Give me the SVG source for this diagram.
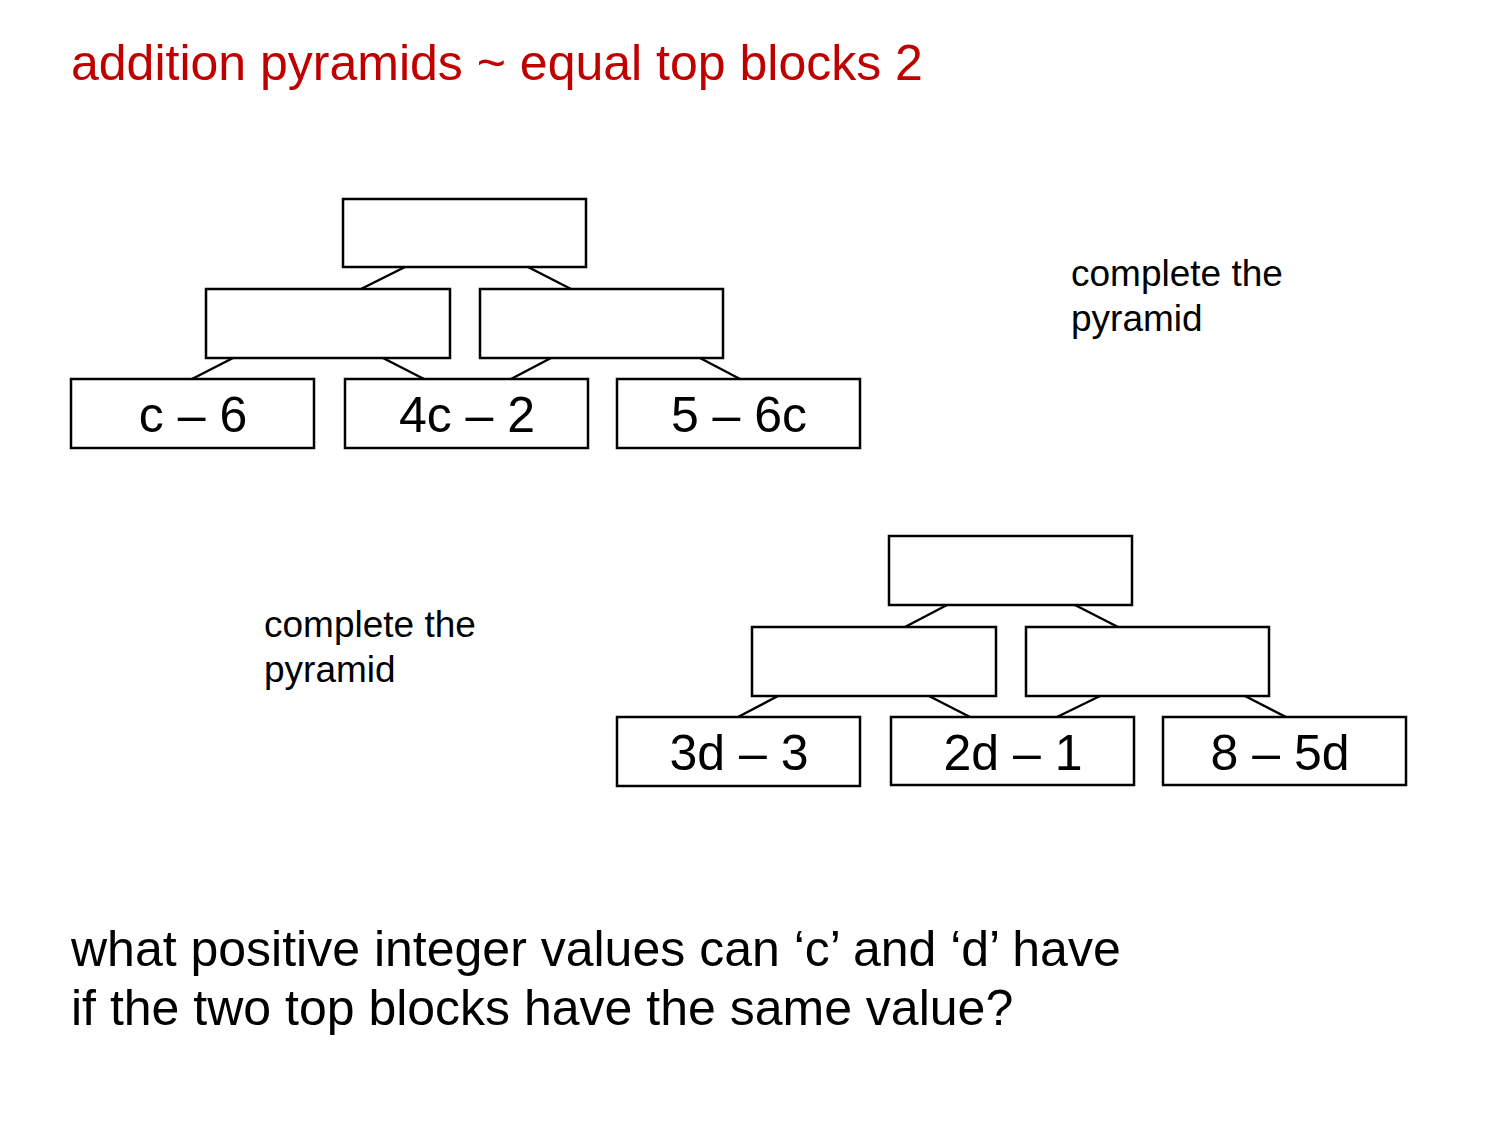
<svg xmlns="http://www.w3.org/2000/svg" width="1500" height="1125" viewBox="0 0 1500 1125">
<style>
.b{fill:#fff;stroke:#000;stroke-width:2.5}
.c line{stroke:#000;stroke-width:2.5}
text{font-family:"Liberation Sans",Arial,sans-serif}
.l{font-size:50px;text-anchor:middle}
.s{font-size:37px}
.q{font-size:50px}
</style>
<rect width="1500" height="1125" fill="#fff"/>
<text x="71" y="80" font-size="50" fill="#c00000">addition pyramids ~ equal top blocks 2</text>
<g class="c" id="connectors">
<line x1="405" y1="267" x2="361" y2="289"/><line x1="528" y1="267" x2="571" y2="289"/>
<line x1="233" y1="358" x2="192" y2="379"/><line x1="383" y1="358" x2="424" y2="379"/>
<line x1="551" y1="358" x2="511" y2="379"/><line x1="700" y1="358" x2="740" y2="379"/>
<line x1="947" y1="605" x2="905" y2="627"/><line x1="1075" y1="605" x2="1118" y2="627"/>
<line x1="778" y1="696" x2="738" y2="717"/><line x1="929" y1="696" x2="970" y2="717"/>
<line x1="1100" y1="696" x2="1057" y2="717"/><line x1="1245" y1="696" x2="1286" y2="717"/>
</g>
<g id="p1top"><rect class="b" x="343" y="199" width="243" height="68"/></g>
<g id="p1ml"><rect class="b" x="206" y="289" width="244" height="69"/></g>
<g id="p1mr"><rect class="b" x="480" y="289" width="243" height="69"/></g>
<g id="p1b1"><rect class="b" x="71" y="379" width="243" height="69"/><text class="l" x="193" y="432">c – 6</text></g>
<g id="p1b2"><rect class="b" x="345" y="379" width="243" height="69"/><text class="l" x="467" y="432">4c – 2</text></g>
<g id="p1b3"><rect class="b" x="617" y="379" width="243" height="69"/><text class="l" x="739" y="432">5 – 6c</text></g>
<g id="p2top"><rect class="b" x="889" y="536" width="243" height="69"/></g>
<g id="p2ml"><rect class="b" x="752" y="627" width="244" height="69"/></g>
<g id="p2mr"><rect class="b" x="1026" y="627" width="243" height="69"/></g>
<g id="p2b1"><rect class="b" x="617" y="717" width="243" height="69"/><text class="l" x="739" y="770">3d – 3</text></g>
<g id="p2b2"><rect class="b" x="891" y="717" width="243" height="68"/><text class="l" x="1013" y="770">2d – 1</text></g>
<g id="p2b3"><rect class="b" x="1163" y="717" width="243" height="68"/><text class="l" x="1280" y="770">8 – 5d</text></g>
<text class="s" x="1071" y="286">complete the</text>
<text class="s" x="1071" y="331">pyramid</text>
<text class="s" x="264" y="637">complete the</text>
<text class="s" x="264" y="682">pyramid</text>
<text class="q" x="71" y="966">what positive integer values can ‘c’ and ‘d’ have</text>
<text class="q" x="71" y="1025">if the two top blocks have the same value?</text>
</svg>
